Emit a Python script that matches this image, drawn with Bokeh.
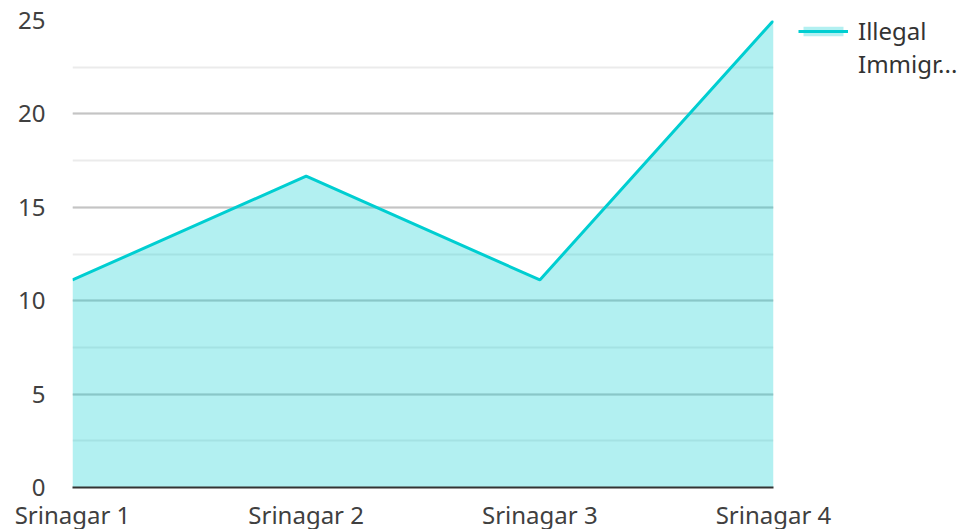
from bokeh.plotting import figure
from bokeh.models import Range1d, SingleIntervalTicker, FixedTicker, Legend, LegendItem
from bokeh.embed import file_html
from bokeh.resources import INLINE

categories = ["Srinagar 1", "Srinagar 2", "Srinagar 3", "Srinagar 4"]
values = [11.11, 16.67, 11.11, 25.0]
series_name_lines = ["Illegal", "Immigr..."]

FONT = "Noto Sans"
LINE_COLOR = "#00CED1"

xs = list(range(len(categories)))

p = figure(frame_width=701, frame_height=467, output_backend="svg", toolbar_location=None,
           x_range=Range1d(0, len(categories) - 1), y_range=Range1d(0, 25),
           min_border_left=72, min_border_top=20, min_border_right=190,
           min_border_bottom=42)
p.outline_line_color = None
p.background_fill_color = "white"

area = p.varea(x=xs, y1=0, y2=values, fill_color=LINE_COLOR, fill_alpha=0.3)
line = p.line(x=xs, y=values, line_color=LINE_COLOR, line_width=3)
# invisible renderer used only to carry the wrapped second line of the legend label
wrap = p.line(x=[], y=[], line_alpha=0)

# x axis
p.xaxis.ticker = FixedTicker(ticks=xs)
p.xaxis.major_label_overrides = {i: c for i, c in zip(xs, categories)}
p.xaxis.major_tick_line_color = None
p.xaxis.minor_tick_line_color = None
p.xaxis.axis_line_color = "#333333"
p.xaxis.axis_line_width = 2
p.xaxis.major_label_text_font = FONT
p.xaxis.major_label_text_font_size = "24px"
p.xaxis.major_label_text_color = "#404040"
p.xaxis.major_label_standoff = 4

# y axis
p.yaxis.ticker = SingleIntervalTicker(interval=5, num_minor_ticks=2)
p.yaxis.axis_line_color = None
p.yaxis.major_tick_line_color = None
p.yaxis.minor_tick_line_color = None
p.yaxis.major_label_text_font = FONT
p.yaxis.major_label_text_font_size = "24px"
p.yaxis.major_label_text_color = "#404040"
p.yaxis.major_label_standoff = 21

p.xgrid.grid_line_color = None
p.ygrid.grid_line_color = "#c4c4c4"
p.ygrid.grid_line_width = 2
p.ygrid.minor_grid_line_color = "#ebebeb"
p.ygrid.minor_grid_line_width = 2

legend = Legend(items=[LegendItem(label=series_name_lines[0], renderers=[area, line]),
                       LegendItem(label=series_name_lines[1], renderers=[wrap])],
                location=(25, 407), padding=0, margin=0, spacing=0,
                glyph_width=50, glyph_height=12, label_standoff=10,
                label_text_font=FONT, label_text_font_size="24px",
                label_text_color="#333333", border_line_color=None,
                background_fill_alpha=0)
p.add_layout(legend, "right")

open("out.html", "w").write(file_html(p, INLINE))
